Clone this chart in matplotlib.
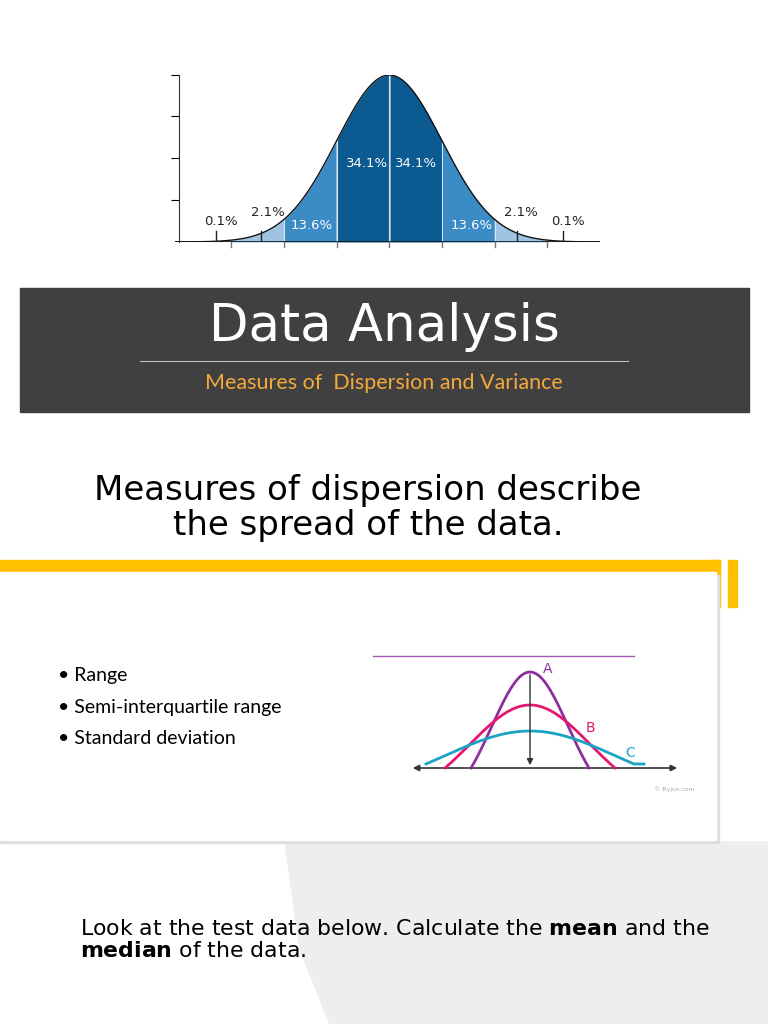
import numpy as np
import matplotlib.pyplot as plt
from matplotlib.patches import Rectangle, Polygon

W, H = 768, 1024

# normal distribution bands (in standard deviations)
band_edges = [-4, -3, -2, -1, 0, 1, 2, 3, 4]
band_colors = ['#e8f0f8', '#9ec3e3', '#3a8bc6', '#0b5a92', '#0b5a92', '#3a8bc6', '#9ec3e3', '#e8f0f8']
inner_x = [-1.48, -0.42, 0.5, 1.56]
inner_y = [0.04, 0.187, 0.187, 0.04]
inner_text = ['13.6%', '34.1%', '34.1%', '13.6%']
outer_x = [-3.19, -2.3, 2.5, 3.39]
outer_y = [0.05, 0.07, 0.07, 0.05]
outer_text = ['0.1%', '2.1%', '2.1%', '0.1%']
marker_x = [-3.29, -2.43, 2.43, 3.29]

# dispersion curves: name, height, spread, half width, colour
curve_names = ['A', 'B', 'C']
curve_heights = [96, 63, 33]
curve_spreads = [38, 60, 85]
curve_halfwidths = [59, 85, 104]
curve_colors = ['#8e2f9e', '#e5176f', '#1aa3c4']

bullets = ['Range', 'Semi-interquartile range', 'Standard deviation']

fig = plt.figure(figsize=(7.68, 10.24), dpi=100)
bg = fig.add_axes([0, 0, 1, 1])
bg.set_xlim(0, W)
bg.set_ylim(H, 0)
bg.axis('off')

# grey area at bottom
bg.add_patch(Polygon([(285, 842), (768, 842), (768, 1024), (330, 1024), (300, 950)],
                     color='#eeeeee', zorder=0))
# banner
bg.add_patch(Rectangle((20, 288), 729, 124, color='#404040'))
bg.plot([140, 628], [361, 361], color='#bbbbbb', lw=0.8)
bg.text(384, 327, 'Data Analysis', color='white', fontsize=37, ha='center', va='center')
bg.text(384, 383, 'Measures of  Dispersion and Variance', color='#f4a93a', fontsize=15.5,
        ha='center', va='center', family='Lato')
bg.text(368, 508, 'Measures of dispersion describe\nthe spread of the data.', fontsize=24.5,
        ha='center', va='center', linespacing=1.05)
# yellow bars and card
bg.add_patch(Rectangle((0, 560), 720, 12, color='#ffc000'))
bg.add_patch(Rectangle((714, 560), 6, 47, color='#ffc000'))
bg.add_patch(Rectangle((728, 560), 9, 47, color='#ffc000'))
bg.add_patch(Rectangle((0, 575), 719, 268, color='#dddddd', zorder=1))
bg.add_patch(Rectangle((0, 572), 716, 268, color='white', zorder=2))
for i, b in enumerate(bullets):
    bg.text(58, 675 + 32 * i, '\u2022 ' + b, fontsize=14, va='center', family='Lato', zorder=3)
bg.plot([373, 634], [656, 656], color='#a35bb5', lw=1, zorder=3)
bg.text(695, 789, '\u00a9 Byjus.com', fontsize=4.5, color='#aaaaaa', ha='right', va='center', zorder=3)
bg.text(80, 940, 'Look at the test data below. Calculate the $\\bf{mean}$ and the\n$\\bf{median}$ of the data.',
        fontsize=15.8, va='center', linespacing=1.15)

# normal curve
ax = fig.add_axes([175 / W, 1 - 242 / H, 425 / W, 167 / H])
x = np.linspace(-4.07, 4.0, 600)
pdf = np.exp(-x ** 2 / 2) / np.sqrt(2 * np.pi)
for i in range(len(band_colors)):
    m = (x >= band_edges[i]) & (x <= band_edges[i + 1])
    ax.fill_between(x[m], pdf[m], color=band_colors[i], lw=0)
for e in band_edges[1:-1]:
    ax.plot([e, e], [0, np.exp(-e ** 2 / 2) / np.sqrt(2 * np.pi)], color='#d8e6f2', lw=0.8)
    ax.plot([e, e], [0, -0.012], color='#777777', lw=1, clip_on=False)
ax.plot(x, pdf, color='#111111', lw=1)
ax.axhline(0, color='#111111', lw=1.2)
for xx, yy, t in zip(inner_x, inner_y, inner_text):
    ax.text(xx, yy, t, color='white', fontsize=9.5, ha='center', va='center')
for xx, yy, t in zip(outer_x, outer_y, outer_text):
    ax.text(xx, yy, t, color='#222222', fontsize=9.5, ha='center', va='center')
for xx in marker_x:
    ax.plot([xx, xx], [0, 0.026], color='#222222', lw=1)
ax.set_xlim(-4.07, 4.0)
ax.set_ylim(0, 0.399)
ax.spines[['top', 'right', 'bottom']].set_visible(False)
ax.spines['left'].set_color('#333333')
ax.spines['left'].set_position(('data', -4.0))
ax.set_yticks([0.1, 0.2, 0.3, 0.399])
ax.set_yticklabels([])
ax.tick_params(axis='y', direction='out', length=6)
ax.set_xticks([])
ax.patch.set_alpha(0)

# dispersion curves
ax2 = fig.add_axes([400 / W, 1 - 790 / H, 290 / W, 130 / H])
ax2.set_xlim(-130, 160)
ax2.set_ylim(-22, 108)
ax2.axis('off')
for n, h, s, w, c in zip(curve_names, curve_heights, curve_spreads, curve_halfwidths, curve_colors):
    xs = np.linspace(-w, w, 300)
    g = np.exp(-xs ** 2 / (2 * s ** 2))
    g0 = np.exp(-w ** 2 / (2 * s ** 2))
    ys = h * (g - g0) / (1 - g0)
    if n == 'C':
        xs = np.concatenate([[-w], xs, [w + 10]])
        ys = np.concatenate([[0], ys, [0]]) + 4
    ax2.plot(xs, ys, color=c, lw=2, zorder=4)
ax2.text(18, 99, 'A', color=curve_colors[0], fontsize=10, ha='center', va='center')
ax2.text(60, 40, 'B', color=curve_colors[1], fontsize=10, ha='center', va='center')
ax2.text(100, 15, 'C', color=curve_colors[2], fontsize=10, ha='center', va='center')
ax2.annotate('', xy=(-120, 0), xytext=(150, 0),
             arrowprops=dict(arrowstyle='<|-|>', color='#333333', lw=1.2, mutation_scale=9))
ax2.annotate('', xy=(0, 0), xytext=(0, 96),
             arrowprops=dict(arrowstyle='-|>', color='#333333', lw=1, mutation_scale=9), zorder=5)

fig.savefig('out.png', dpi=100)
